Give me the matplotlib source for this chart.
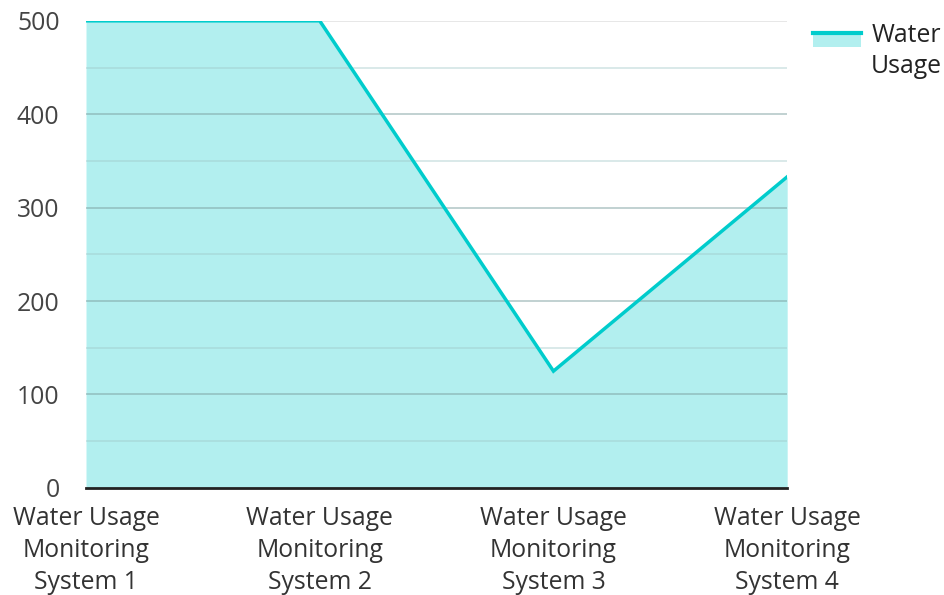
import matplotlib.pyplot as plt
from matplotlib.patches import Patch, Rectangle
from matplotlib.lines import Line2D

categories = ["Water Usage\nMonitoring\nSystem 1", "Water Usage\nMonitoring\nSystem 2",
              "Water Usage\nMonitoring\nSystem 3", "Water Usage\nMonitoring\nSystem 4"]
usage = [500, 500, 125, 333]
yticks = [0, 100, 200, 300, 400, 500]
series_name = "Water\nUsage"

color = "#00CCCC"


class AreaHandler:
    # line on top of a light strip, like the area swatch in the reference
    def legend_artist(self, legend, orig_handle, fontsize, handlebox):
        x0, y0 = handlebox.xdescent, handlebox.ydescent
        w, h = handlebox.width, handlebox.height
        rect = Rectangle((x0, y0 + h * 1.1), w, h * 1.0, facecolor=color, alpha=0.3,
                         linewidth=0, transform=handlebox.get_transform())
        line = Line2D([x0, x0 + w], [y0 + h * 2.1, y0 + h * 2.1], color=color,
                      linewidth=3, transform=handlebox.get_transform())
        handlebox.add_artist(rect)
        handlebox.add_artist(line)
        return line


def main():
    plt.rcParams['font.family'] = ['Open Sans', 'DejaVu Sans']
    fig = plt.figure(figsize=(9.45, 5.95), dpi=100)
    ax = fig.add_axes([0.091, 0.180, 0.742, 0.785])

    x = list(range(len(categories)))
    ax.fill_between(x, usage, 0, color=color, alpha=0.3, linewidth=0, zorder=1)
    ax.plot(x, usage, color=color, linewidth=2.5, zorder=3, solid_joinstyle='miter')

    for v in range(50, 501, 50):
        if v % 100 == 0:
            ax.axhline(v, color="#7a9e9e" if v < 500 else "#cccccc", alpha=0.55, linewidth=1.2, zorder=2)
        else:
            ax.axhline(v, color="#9ec7c7", alpha=0.45, linewidth=1.2, zorder=2)

    ax.set_xlim(0, len(categories) - 1)
    ax.set_ylim(0, 500)
    ax.set_yticks(yticks)
    ax.set_xticks(x)
    ax.set_xticklabels(categories, fontsize=17.8, color="#333333", linespacing=1.37)
    ax.tick_params(axis='y', labelsize=17.8, labelcolor="#444444", length=0, pad=19)
    ax.tick_params(axis='x', length=0, pad=13)

    for s in ['top', 'right', 'left']:
        ax.spines[s].set_visible(False)
    ax.spines['bottom'].set_color("#222222")
    ax.spines['bottom'].set_linewidth(2)
    ax.spines['bottom'].set_zorder(4)

    leg = ax.legend([Patch()], [series_name], handler_map={Patch: AreaHandler()},
                    loc='upper left', bbox_to_anchor=(1.037, 0.995), frameon=False,
                    borderpad=0, borderaxespad=0, fontsize=17.8, handlelength=1.95,
                    handleheight=0.5, handletextpad=0.4, labelcolor="#222222")
    for t in leg.get_texts():
        t.set_linespacing(1.33)

    fig.savefig("out.png", dpi=100)

if __name__ == '__main__':
    main()
